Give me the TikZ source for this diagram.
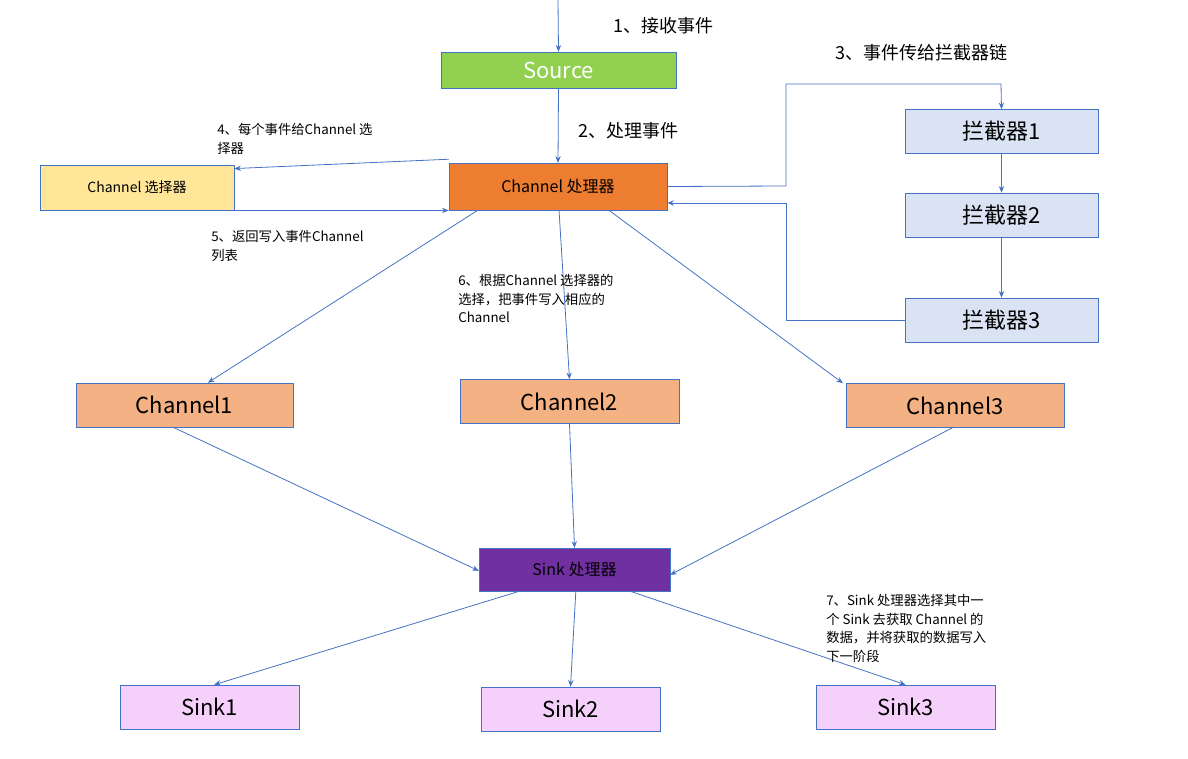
\documentclass[tikz,border=0pt]{standalone}
\usepackage{fontspec}
\setmainfont{Noto Sans CJK SC}
\usetikzlibrary{positioning,arrows.meta}
\definecolor{arrblue}{HTML}{4472C4}
\definecolor{srcgreen}{HTML}{92D050}
\definecolor{procorange}{HTML}{ED7D31}
\definecolor{selyellow}{HTML}{FFE699}
\definecolor{icpblue}{HTML}{DAE3F3}
\definecolor{chsalmon}{HTML}{F4B183}
\definecolor{sinkpurple}{HTML}{7030A0}
\definecolor{sinkpink}{HTML}{F5D0FA}
\tikzset{
 box/.style 2 args={draw=#1, fill=#2, minimum height=33pt, inner sep=0pt},
 arr/.style={draw=arrblue, -{Stealth[length=5pt,width=4pt]}, line width=0.6pt},
 note/.style={font=\fontsize{10}{14}\selectfont, align=left, anchor=north west, inner sep=0pt}
}
\begin{document}
\begin{tikzpicture}[x=0.75pt,y=-0.75pt]
\useasboundingbox (0,0) rectangle (1188,759);
\begin{scope}[every node/.style={font=\fontsize{16.5}{18}\selectfont}]
 \node[box={arrblue}{srcgreen}, minimum width=176pt, minimum height=27pt, text=white] (src) at (558.5,70) {Source};
 \node[box={arrblue}{procorange}, minimum width=163.5pt, minimum height=35pt, font=\fontsize{12}{14}\selectfont] (cp) at (558,186.5) {Channel 处理器};
 \node[box={arrblue}{selyellow}, minimum width=145.5pt, minimum height=34pt, font=\fontsize{10.5}{12}\selectfont] (sel) at (137,187.5) {Channel 选择器};
 \node[box={arrblue}{icpblue}, minimum width=145pt, minimum height=33pt] (i1) at (1001.5,131.5) {拦截器1};
 \node[box={arrblue}{icpblue}, minimum width=145pt, minimum height=33pt] (i2) at (1001.5,215) {拦截器2};
 \node[box={arrblue}{icpblue}, minimum width=145pt, minimum height=33pt] (i3) at (1001.5,320) {拦截器3};
 \node[box={arrblue}{chsalmon}, minimum width=163pt] (c1) at (184.5,405) {Channel1};
 \node[box={arrblue}{chsalmon}, minimum width=164pt] (c2) at (569.5,401.5) {Channel2};
 \node[box={arrblue}{chsalmon}, minimum width=163.5pt] (c3) at (955,405.5) {Channel3};
 \node[box={arrblue}{sinkpurple}, minimum width=143pt, minimum height=32pt, font=\fontsize{12}{14}\selectfont] (sp) at (574.5,569.5) {Sink 处理器};
 \node[box={arrblue}{sinkpink}, minimum width=134pt] (s1) at (209.5,707) {Sink1};
 \node[box={arrblue}{sinkpink}, minimum width=134pt] (s2) at (570.5,709) {Sink2};
 \node[box={arrblue}{sinkpink}, minimum width=134pt] (s3) at (905.5,707) {Sink3};
\end{scope}

\coordinate (in) at (558,0);
\draw[arr] (in) -- (src.north);
\draw[arr] (src.south) -- (cp.north);
\draw[arr] ([yshift=4pt]cp.west|-sel.north) -- ([yshift=-3pt]sel.north east);
\draw[arr] ([yshift=0pt]sel.south east) -- (sel.south east-|cp.west);
\draw[arr] (cp.east) -- (786,186) -- (786,84) -- (1001,84) -- (i1.north);
\draw[arr] (i1) -- (i2);
\draw[arr] (i2) -- (i3);
\draw[arr] (i3.west) -- (786,320) -- (786,203) -- (cp.east|-0,203);

\draw[arr] ([xshift=-60pt]cp.south) -- ([xshift=17.5pt]c1.north);
\draw[arr] ([xshift=0.75pt]cp.south) -- (c2.north);
\draw[arr] ([xshift=38pt]cp.south) -- ([xshift=-84pt]c3.north);
\draw[arr] ([xshift=-8.5pt]c1.south) -- ([yshift=-1pt]sp.west);
\draw[arr] (c2.south) -- (sp.north);
\draw[arr] ([xshift=-2pt]c3.south) -- ([yshift=-4pt]sp.east);
\draw[arr] ([xshift=-41pt]sp.south) -- ([xshift=3.5pt]s1.north);
\draw[arr] ([xshift=1pt]sp.south) -- (s2.north);
\draw[arr] ([xshift=41.5pt]sp.south) -- (s3.north);

% labels
\begin{scope}[every node/.style={font=\fontsize{13.5}{16}\selectfont}]
 \node (l1) at (663,26) {1、接收事件};
 \node (l2) at (628,131) {2、处理事件};
 \node (l3) at (921,53) {3、事件传给拦截器链};
\end{scope}
\node[note] (l4) at (217,123) {4、每个事件给Channel 选\\择器};
\node[note] (l5) at (211,230) {5、返回写入事件Channel\\列表};
\node[note] (l6) at (458,274) {6、根据Channel 选择器的\\选择，把事件写入相应的\\Channel};
\node[note] (l7) at (826,594) {7、Sink 处理器选择其中一\\个 Sink 去获取 Channel 的\\数据，并将获取的数据写入\\下一阶段};
\end{tikzpicture}
\end{document}
